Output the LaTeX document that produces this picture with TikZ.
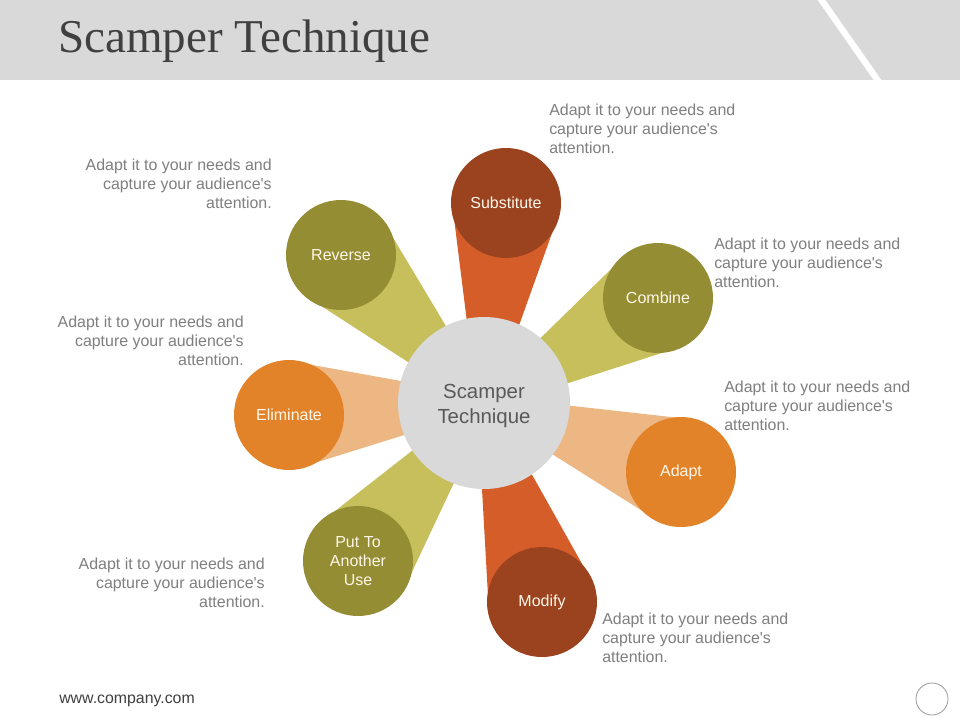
\documentclass[tikz,border=0pt]{standalone}
\usepackage{fontspec}
\setmainfont{Liberation Sans}[Ligatures=TeXOff]
\newfontfamily\titlefont{Liberation Serif}
\usetikzlibrary{calc}
\pgfdeclarelayer{back}
\pgfdeclarelayer{bg}
\pgfsetlayers{back,bg,main}
\definecolor{bargray}{HTML}{D9D9D9}
\definecolor{titletext}{HTML}{404040}
\definecolor{hubgray}{HTML}{D9D9D9}
\definecolor{hubtext}{HTML}{595959}
\definecolor{darkbrown}{HTML}{9B431F}
\definecolor{beamred}{HTML}{D45D2A}
\definecolor{olive}{HTML}{948D33}
\definecolor{beamolive}{HTML}{C6BF5B}
\definecolor{orangec}{HTML}{E2832A}
\definecolor{beamorange}{HTML}{EDB784}
\definecolor{desctext}{HTML}{7F7F7F}
\definecolor{labeltext}{HTML}{FFF8EA}
\newcommand{\BeamR}{41.25pt}
\newcommand{\BeamW}{5.25pt}
\newcommand{\beam}[3]{%
  \fill[#3] ($(#1.center)!\BeamR!90:(#2.center)$) -- ($(#1.center)!\BeamR!-90:(#2.center)$)
    -- ($(#2.center)!\BeamW!90:(#1.center)$) -- ($(#2.center)!\BeamW!-90:(#1.center)$) -- cycle;}
\newcommand{\desctxt}{Adapt it to your needs and\\capture your audience's\\attention.}
\begin{document}
\begin{tikzpicture}[x=0.75pt,y=-0.75pt,
  petal/.style={circle, minimum size=82.5pt, inner sep=0pt, text=labeltext,
    font=\fontsize{12pt}{14.25pt}\selectfont, align=center},
  hubnode/.style={circle, minimum size=129pt, inner sep=0pt, fill=hubgray, text=hubtext,
    font=\fontsize{15.3pt}{18.75pt}\selectfont, align=center},
  desc/.style={inner sep=0pt, text=desctext, font=\fontsize{11.95pt}{14.25pt}\selectfont},
  descl/.style={desc, align=left, anchor=north west},
  descr/.style={desc, align=right, anchor=north east}]
\useasboundingbox (0,0) rectangle (960,720);
\begin{pgfonlayer}{back}
\fill[white] (0,0) rectangle (960,720);
\end{pgfonlayer}
% title bar
\begin{scope}
\clip (0,0) rectangle (960,80);
\fill[bargray] (0,0) rectangle (960,80);
\draw[white, line width=4.8pt] (818,-5) -- (881,85);
\end{scope}
\node[anchor=base west, inner sep=0pt, text=titletext, font=\titlefont\fontsize{35.3pt}{40pt}\selectfont] (title) at (58,53) {Scamper Technique};
% hub and petals
\node[hubnode] (hub) at (484,403) {\rule{0pt}{15pt}Scamper\\Technique};
\node[petal, fill=darkbrown] (sub) at (506,203) {Substitute};
\node[petal, fill=olive] (com) at (658,298) {Combine};
\node[petal, fill=orangec] (ada) at (681,472) {Adapt};
\node[petal, fill=darkbrown] (mod) at (542,602) {Modify};
\node[petal, fill=olive] (put) at (358,561) {Put To\\Another\\Use};
\node[petal, fill=orangec] (eli) at (289,415) {Eliminate};
\node[petal, fill=olive] (rev) at (341,255) {Reverse};
\begin{pgfonlayer}{bg}
\beam{sub}{hub}{beamred}
\beam{com}{hub}{beamolive}
\beam{ada}{hub}{beamorange}
\beam{mod}{hub}{beamred}
\beam{put}{hub}{beamolive}
\beam{eli}{hub}{beamorange}
\beam{rev}{hub}{beamolive}
\end{pgfonlayer}
% descriptions
\node[descl] (dsub) at (549,104) {\desctxt};
\node[descr] (drev) at (272,159) {\desctxt};
\node[descl] (dcom) at (714,238) {\desctxt};
\node[descr] (deli) at (244,316) {\desctxt};
\node[descl] (dada) at (724,381) {\desctxt};
\node[descr] (dput) at (265,558) {\desctxt};
\node[descl] (dmod) at (602,613) {\desctxt};
% footer
\node[anchor=west, inner sep=0pt, text=titletext, font=\fontsize{11.9pt}{14pt}\selectfont] (url) at (59,701) {www.company.com};
\node[circle, draw=gray!80, line width=0.6pt, minimum size=24pt, inner sep=0pt] (pagecircle) at (932,699) {};
\end{tikzpicture}
\end{document}
